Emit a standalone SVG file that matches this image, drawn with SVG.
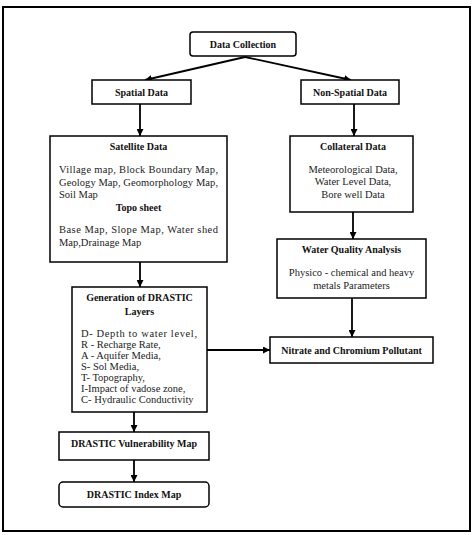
<svg xmlns="http://www.w3.org/2000/svg" width="474" height="535" viewBox="0 0 474 535">
<defs>
<marker id="ah" viewBox="0 0 10 10" refX="10" refY="5" markerWidth="7" markerHeight="7" markerUnits="userSpaceOnUse" orient="auto"><path d="M0,0 L10,5 L0,10 z" fill="#000"/></marker>
<style>
.box{fill:#fff;stroke:#000;stroke-width:1.5}
text{font-family:'Liberation Serif','Times New Roman','DejaVu Serif',serif}
.h{font-size:10px;font-weight:bold;text-anchor:middle;fill:#111}
.t{font-size:10.5px;fill:#222}
.c{text-anchor:middle}
.ln{stroke:#000;stroke-width:1.8;fill:none;marker-end:url(#ah)}
</style>
</defs>
<rect x="0" y="0" width="474" height="535" fill="#fff"/>
<rect x="3" y="7" width="467" height="524" fill="none" stroke="#000" stroke-width="2"/>
<g id="connectors">
<line class="ln" x1="245" y1="57" x2="145" y2="80"/>
<line class="ln" x1="245" y1="57" x2="351" y2="80"/>
<line class="ln" x1="140" y1="104" x2="140" y2="136"/>
<line class="ln" x1="354" y1="104" x2="354" y2="136"/>
<line class="ln" x1="140" y1="262" x2="140" y2="287"/>
<line class="ln" x1="353" y1="212" x2="353" y2="239"/>
<line class="ln" x1="352" y1="298" x2="352" y2="337"/>
<line class="ln" x1="207" y1="350" x2="270" y2="350"/>
<line class="ln" x1="134" y1="412" x2="134" y2="432"/>
<line class="ln" x1="134" y1="460" x2="134" y2="482"/>
</g>
<g id="data-collection"><rect class="box" x="190" y="32" width="106" height="24" rx="3"/><text class="h" x="243" y="47.5">Data Collection</text></g>
<g id="spatial-data"><rect class="box" x="92" y="80" width="99" height="24"/><text class="h" x="141.5" y="95.5">Spatial Data</text></g>
<g id="non-spatial-data"><rect class="box" x="301" y="80" width="98" height="24"/><text class="h" x="350" y="95.5">Non-Spatial  Data</text></g>
<g id="satellite-data"><rect class="box" x="50" y="136" width="177" height="126"/>
<text class="h" x="138.5" y="149.5">Satellite Data</text>
<text class="t" x="59" y="172.5" textLength="159" lengthAdjust="spacing">Village map, Block Boundary Map,</text>
<text class="t" x="59" y="185.5" textLength="159" lengthAdjust="spacing">Geology Map, Geomorphology Map,</text>
<text class="t" x="59" y="197.5">Soil Map</text>
<text class="h" x="138.5" y="210.5">Topo  sheet</text>
<text class="t" x="59" y="232.5" textLength="159" lengthAdjust="spacing">Base Map, Slope Map, Water shed</text>
<text class="t" x="59" y="246">Map,Drainage Map</text>
</g>
<g id="collateral-data"><rect class="box" x="290" y="136" width="123" height="76"/>
<text class="h" x="353" y="149.5">Collateral  Data</text>
<text class="t c" x="353" y="172.5">Meteorological Data,</text>
<text class="t c" x="353" y="184.5">Water Level Data,</text>
<text class="t c" x="353" y="197.5">Bore well  Data</text>
</g>
<g id="water-quality"><rect class="box" x="277" y="239" width="149" height="59"/>
<text class="h" x="351.5" y="252.5">Water  Quality  Analysis</text>
<text class="t c" x="351.5" y="275.5">Physico - chemical  and heavy</text>
<text class="t c" x="351.5" y="288.5">metals Parameters</text>
</g>
<g id="drastic-layers"><rect class="box" x="72" y="287" width="135" height="125"/>
<text class="h" x="139.5" y="300.5">Generation  of DRASTIC</text>
<text class="h" x="139.5" y="314.5">Layers</text>
<text class="t" x="81" y="336.5" textLength="116" lengthAdjust="spacing">D- Depth to water level,</text>
<text class="t" x="81" y="347.5">R - Recharge Rate,</text>
<text class="t" x="81" y="358.5">A - Aquifer Media,</text>
<text class="t" x="81" y="370">S- Sol Media,</text>
<text class="t" x="81" y="381">T- Topography,</text>
<text class="t" x="81" y="392">I-Impact of vadose zone,</text>
<text class="t" x="81" y="402.5">C- Hydraulic Conductivity</text>
</g>
<g id="nitrate-chromium"><rect class="box" x="270" y="337" width="163" height="26"/><text class="h" x="351.5" y="353.5">Nitrate and Chromium  Pollutant</text></g>
<g id="vulnerability-map"><rect class="box" x="59" y="432" width="150" height="28"/><text class="h" x="134" y="447">DRASTIC  Vulnerability  Map</text></g>
<g id="index-map"><rect class="box" x="59" y="482" width="150" height="25" rx="4"/><text class="h" x="134" y="497.5">DRASTIC  Index  Map</text></g>
</svg>
